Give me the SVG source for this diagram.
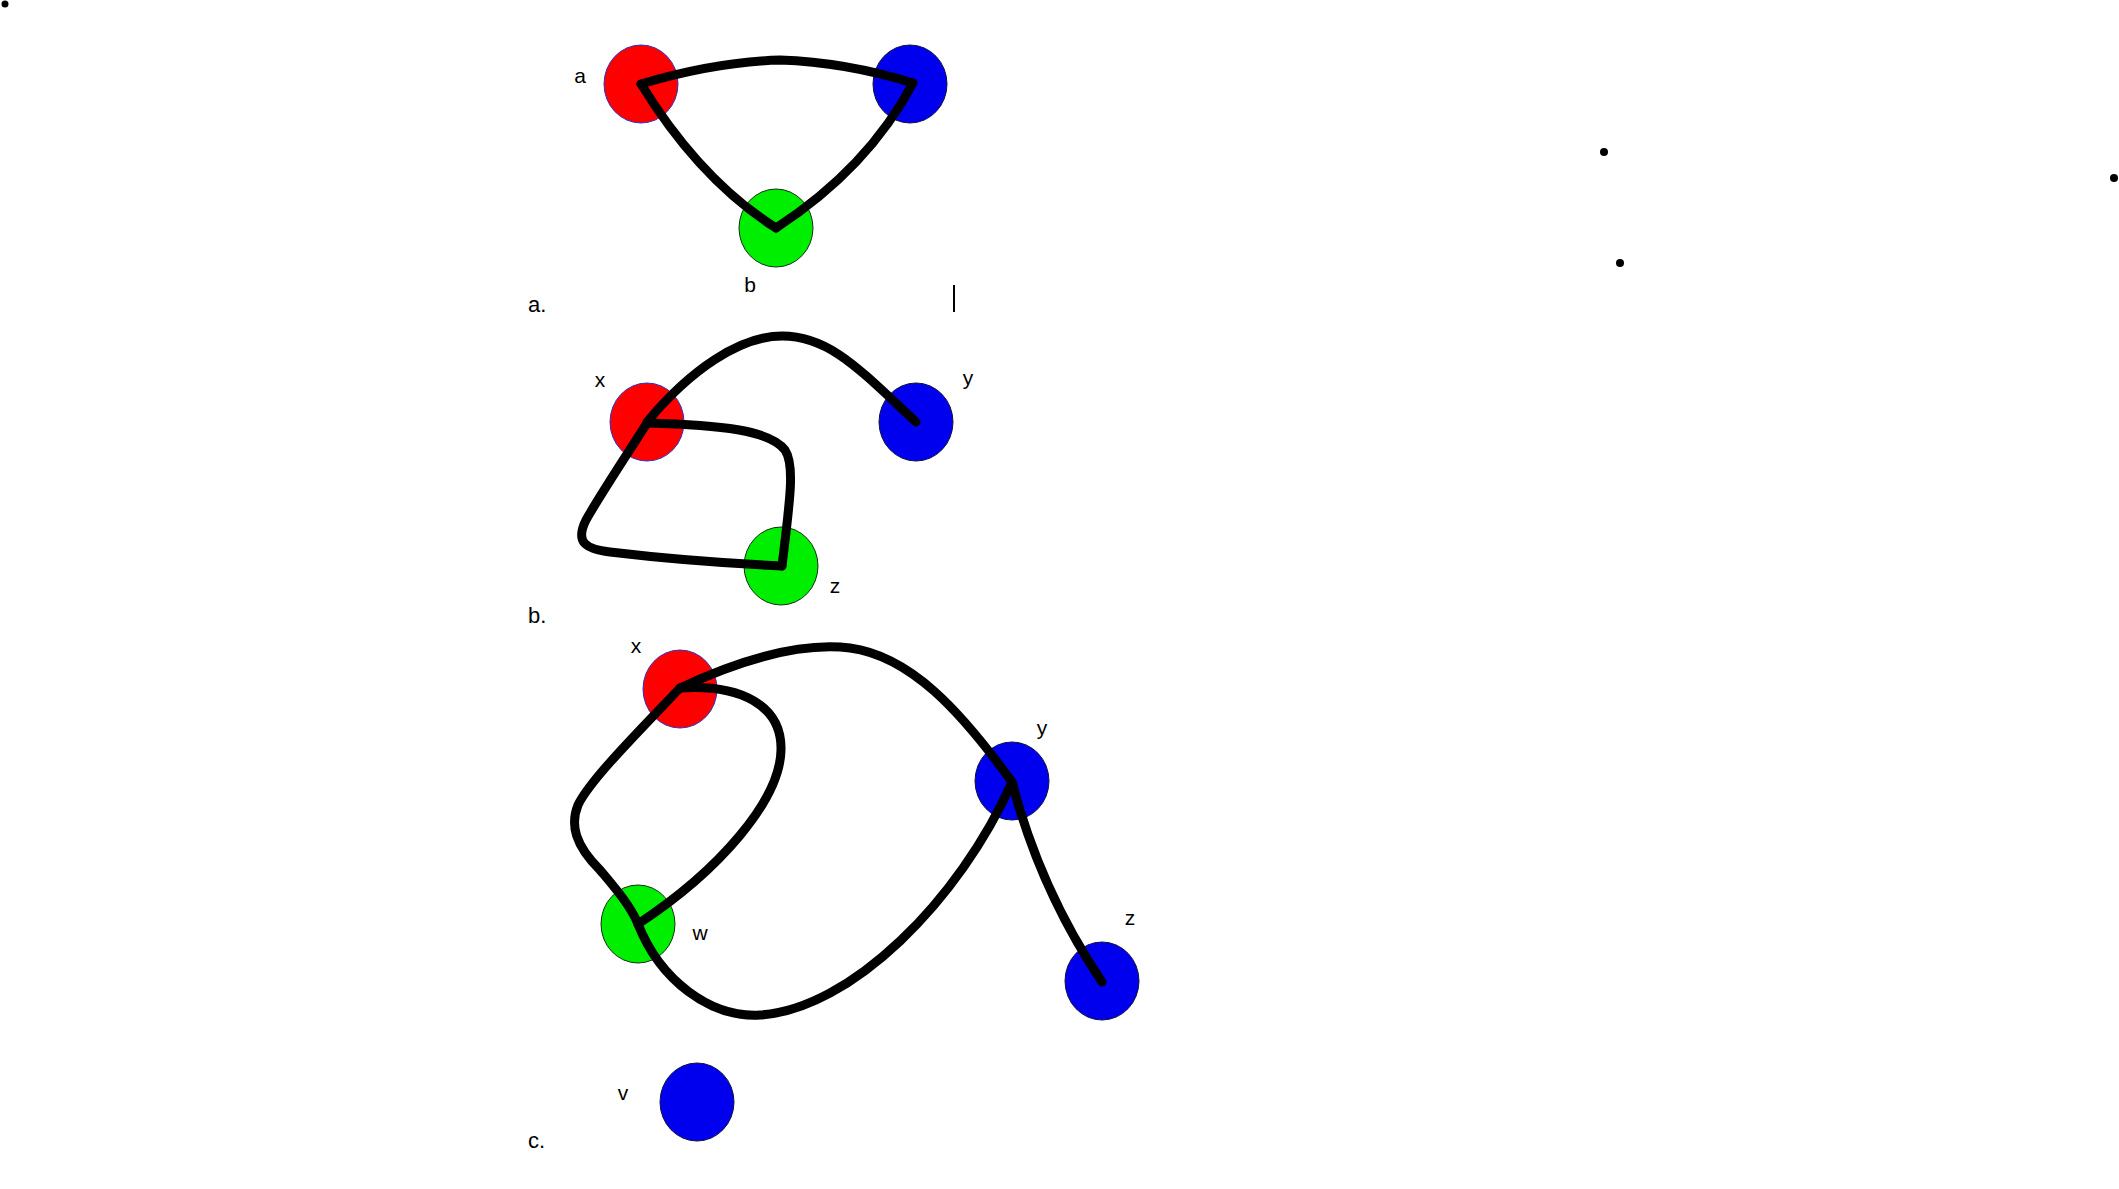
<svg xmlns="http://www.w3.org/2000/svg" width="2119" height="1189" viewBox="0 0 2119 1189">
<style>
.red{fill:#ff0000;stroke:#3030c0;stroke-width:1}
.blue{fill:#0000ee;stroke:#101040;stroke-width:1}
.green{fill:#00ee00;stroke:#103010;stroke-width:1}
.edge{fill:none;stroke:#000;stroke-width:9;stroke-linecap:round;stroke-linejoin:round}
.lbl{font-family:"Liberation Sans",Arial,sans-serif;font-size:21px;fill:#000;text-anchor:middle}
.cap{font-family:"Liberation Sans",Arial,sans-serif;font-size:22px;fill:#000}
.dot{fill:#000}
</style>
<rect width="2119" height="1189" fill="#fff"/>
<g id="dots">
<circle class="dot" cx="5" cy="4" r="3.5"/>
<circle class="dot" cx="1604" cy="152" r="4"/>
<circle class="dot" cx="1620" cy="263" r="4"/>
<circle class="dot" cx="2114" cy="178" r="4"/>
</g>
<g id="a-node-a"><ellipse class="red" cx="641" cy="84" rx="37" ry="39"/><text class="lbl" x="580" y="83">a</text></g>
<g id="a-node-blue"><ellipse class="blue" cx="910" cy="84" rx="37" ry="39"/></g>
<g id="a-node-b"><ellipse class="green" cx="776" cy="228" rx="37" ry="39"/><text class="lbl" x="750" y="292">b</text></g>
<text class="cap" x="528" y="312">a.</text>
<line x1="954" y1="285" x2="954" y2="312" stroke="#000" stroke-width="2"/>

<g id="b-node-x"><ellipse class="red" cx="647" cy="422" rx="37" ry="39"/><text class="lbl" x="600" y="387">x</text></g>
<g id="b-node-y"><ellipse class="blue" cx="916" cy="422" rx="37" ry="39"/><text class="lbl" x="968" y="385">y</text></g>
<g id="b-node-z"><ellipse class="green" cx="781" cy="566" rx="37" ry="39"/><text class="lbl" x="835" y="593">z</text></g>
<text class="cap" x="528" y="623">b.</text>

<g id="c-node-x"><ellipse class="red" cx="680" cy="689" rx="37" ry="39"/><text class="lbl" x="636" y="653">x</text></g>
<g id="c-node-y"><ellipse class="blue" cx="1012" cy="781" rx="37" ry="39"/><text class="lbl" x="1042" y="735">y</text></g>
<g id="c-node-w"><ellipse class="green" cx="638" cy="924" rx="37" ry="39"/><text class="lbl" x="700" y="940">w</text></g>
<g id="c-node-z"><ellipse class="blue" cx="1102" cy="981" rx="37" ry="39"/><text class="lbl" x="1130" y="925">z</text></g>
<g id="c-node-v"><ellipse class="blue" cx="697" cy="1102" rx="37" ry="39"/><text class="lbl" x="623" y="1100">v</text></g>
<text class="cap" x="528" y="1148">c.</text>

<g id="connectors">
<path class="edge" d="M641,84 Q715,62 780,60 Q845,62 913,83"/>
<path class="edge" d="M641,84 Q700,180 776,228"/>
<path class="edge" d="M913,83 Q868,168 776,228"/>

<path class="edge" d="M647,422 C690,370 740,336 782,336 C830,336 860,370 916,422"/>
<path class="edge" d="M647,423 C720,425 770,430 785,450 C795,465 790,500 782,566"/>
<path class="edge" d="M647,423 C630,450 600,495 586,520 C575,542 585,549 610,552 C660,558 720,563 782,566"/>

<path class="edge" d="M680,688 C740,660 800,642 850,648 C910,656 960,710 1012,782"/>
<path class="edge" d="M680,688 C740,684 782,705 781,750 C780,800 720,870 638,924"/>
<path class="edge" d="M680,688 C640,730 590,780 578,805 C570,825 575,845 600,870 C615,888 630,905 638,924"/>
<path class="edge" d="M638,924 C660,980 710,1018 760,1015 C850,1010 960,900 1012,782"/>
<path class="edge" d="M1012,782 Q1040,890 1102,982"/>
</g>
</svg>
